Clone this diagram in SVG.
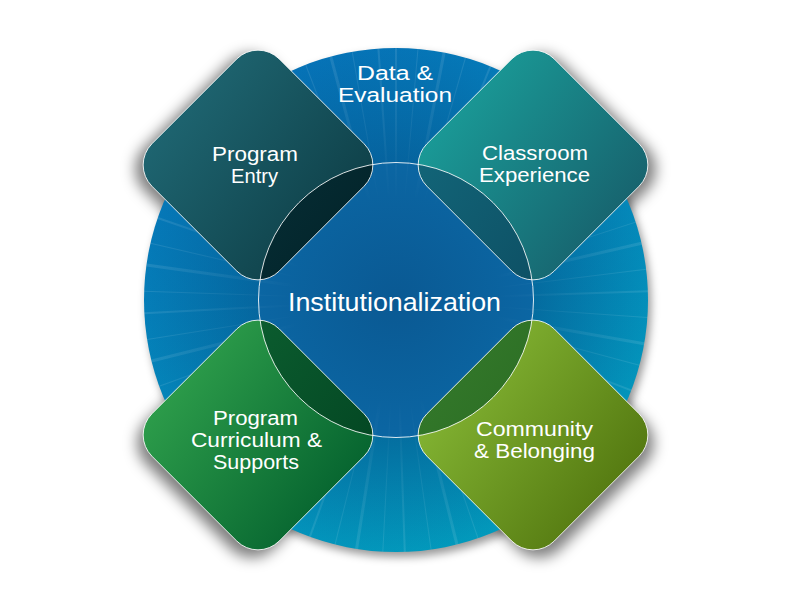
<svg xmlns="http://www.w3.org/2000/svg" width="792" height="612" viewBox="0 0 792 612">
<style>
.lbl{font-family:"Liberation Sans",Arial,sans-serif;font-size:19.5px;fill:#fff;text-anchor:middle}
.big{font-size:25px}
.edge{fill:none;stroke:#fff;stroke-opacity:0.85;stroke-width:1}
#ray{stroke:url(#rayg)}
.w1{stroke-width:1}
.w2{stroke-width:2}
.w3{stroke-width:3}
.shd{fill:#000;fill-opacity:0.5;filter:url(#blur)}
</style>
<defs>
  <filter id="blur" x="-30%" y="-30%" width="160%" height="160%"><feGaussianBlur stdDeviation="7"/></filter>
  <filter id="blur2" x="-10%" y="-10%" width="120%" height="120%"><feGaussianBlur stdDeviation="4"/></filter>
  <linearGradient id="circG" x1="0.25" y1="0" x2="0.75" y2="1">
    <stop offset="0" stop-color="#0670b6"/><stop offset="1" stop-color="#029cbc"/>
  </linearGradient>
  <radialGradient id="circShade" cx="396" cy="300" r="252" gradientUnits="userSpaceOnUse">
    <stop offset="0.5" stop-color="#063f7a" stop-opacity="0.45"/><stop offset="1" stop-color="#063f7a" stop-opacity="0"/>
  </radialGradient>
  <radialGradient id="innerG" cx="396" cy="300" r="137.5" gradientUnits="userSpaceOnUse">
    <stop offset="0" stop-color="#0a5993"/><stop offset="1" stop-color="#0b66a3"/>
  </radialGradient>
  <radialGradient id="rayg" cx="396" cy="300" r="252" gradientUnits="userSpaceOnUse">
    <stop offset="0.4" stop-color="#fff" stop-opacity="0"/>
    <stop offset="0.7" stop-color="#fff" stop-opacity="0.06"/>
    <stop offset="1" stop-color="#fff" stop-opacity="0.1"/>
  </radialGradient>
  <linearGradient id="gA" x1="0.1" y1="0.2" x2="0.9" y2="0.8"><stop offset="0" stop-color="#1f6773"/><stop offset="1" stop-color="#0e3e46"/></linearGradient>
  <linearGradient id="oA" x1="0.1" y1="0.2" x2="0.9" y2="0.8"><stop offset="0" stop-color="#0a3842"/><stop offset="1" stop-color="#03252b"/></linearGradient>
  <linearGradient id="gB" x1="0.1" y1="0.2" x2="0.9" y2="0.8"><stop offset="0" stop-color="#1a9d99"/><stop offset="1" stop-color="#17606c"/></linearGradient>
  <linearGradient id="oB" x1="0.1" y1="0.2" x2="0.9" y2="0.8"><stop offset="0" stop-color="#13677a"/><stop offset="1" stop-color="#0c4b60"/></linearGradient>
  <linearGradient id="gC" x1="0.1" y1="0.2" x2="0.9" y2="0.8"><stop offset="0" stop-color="#2fa04c"/><stop offset="1" stop-color="#04612e"/></linearGradient>
  <linearGradient id="oC" x1="0.1" y1="0.2" x2="0.9" y2="0.8"><stop offset="0" stop-color="#0d6232"/><stop offset="1" stop-color="#034522"/></linearGradient>
  <linearGradient id="gD" x1="0.1" y1="0.2" x2="0.9" y2="0.8"><stop offset="0" stop-color="#86b835"/><stop offset="1" stop-color="#52760f"/></linearGradient>
  <linearGradient id="oD" x1="0.1" y1="0.2" x2="0.9" y2="0.8"><stop offset="0" stop-color="#33782a"/><stop offset="1" stop-color="#23601c"/></linearGradient>
  <clipPath id="innerClip"><circle cx="396" cy="300" r="137.5"/></clipPath>
  <path id="dA" d="M236.79,58.93 a30,30 0 0 1 42.43,0 l84.85,84.85 a30,30 0 0 1 0,42.43 l-84.85,84.85 a30,30 0 0 1 -42.43,0 l-84.85,-84.85 a30,30 0 0 1 0,-42.43 z"/>
  <path id="dB" d="M511.79,58.93 a30,30 0 0 1 42.43,0 l84.85,84.85 a30,30 0 0 1 0,42.43 l-84.85,84.85 a30,30 0 0 1 -42.43,0 l-84.85,-84.85 a30,30 0 0 1 0,-42.43 z"/>
  <path id="dC" d="M236.79,328.93 a30,30 0 0 1 42.43,0 l84.85,84.85 a30,30 0 0 1 0,42.43 l-84.85,84.85 a30,30 0 0 1 -42.43,0 l-84.85,-84.85 a30,30 0 0 1 0,-42.43 z"/>
  <path id="dD" d="M511.79,328.93 a30,30 0 0 1 42.43,0 l84.85,84.85 a30,30 0 0 1 0,42.43 l-84.85,84.85 a30,30 0 0 1 -42.43,0 l-84.85,-84.85 a30,30 0 0 1 0,-42.43 z"/>
  <line id="ray" x1="396" y1="300" x2="396" y2="48"/>
</defs>

<g id="shadows">
  <circle cx="399" cy="305" r="252" fill="#000" fill-opacity="0.4" filter="url(#blur2)"/>
  <use href="#dA" class="shd" transform="translate(-8,4)"/>
  <use href="#dB" class="shd" transform="translate(8,4)"/>
  <use href="#dC" class="shd" transform="translate(-6,8)"/>
  <use href="#dD" class="shd" transform="translate(6,8)"/>
</g>

<g id="data-evaluation">
  <circle cx="396" cy="300" r="252" fill="url(#circG)"/>
  <circle cx="396" cy="300" r="252" fill="url(#circShade)"/>
</g>

<g id="institutionalization">
  <circle cx="396" cy="300" r="137.5" fill="url(#innerG)"/>
</g>

<g id="rays">
  <use href="#ray" class="w2" transform="rotate(0 396 300)"/>
  <use href="#ray" class="w1" transform="rotate(5 396 300)"/>
  <use href="#ray" class="w3" transform="rotate(11 396 300)"/>
  <use href="#ray" class="w1" transform="rotate(16 396 300)"/>
  <use href="#ray" class="w2" transform="rotate(22 396 300)"/>
  <use href="#ray" class="w1" transform="rotate(27 396 300)"/>
  <use href="#ray" class="w3" transform="rotate(33 396 300)"/>
  <use href="#ray" class="w1" transform="rotate(38 396 300)"/>
  <use href="#ray" class="w2" transform="rotate(44 396 300)"/>
  <use href="#ray" class="w1" transform="rotate(50 396 300)"/>
  <use href="#ray" class="w3" transform="rotate(55 396 300)"/>
  <use href="#ray" class="w1" transform="rotate(61 396 300)"/>
  <use href="#ray" class="w2" transform="rotate(66 396 300)"/>
  <use href="#ray" class="w1" transform="rotate(72 396 300)"/>
  <use href="#ray" class="w3" transform="rotate(77 396 300)"/>
  <use href="#ray" class="w1" transform="rotate(83 396 300)"/>
  <use href="#ray" class="w2" transform="rotate(88 396 300)"/>
  <use href="#ray" class="w1" transform="rotate(94 396 300)"/>
  <use href="#ray" class="w3" transform="rotate(100 396 300)"/>
  <use href="#ray" class="w1" transform="rotate(105 396 300)"/>
  <use href="#ray" class="w2" transform="rotate(111 396 300)"/>
  <use href="#ray" class="w1" transform="rotate(116 396 300)"/>
  <use href="#ray" class="w3" transform="rotate(122 396 300)"/>
  <use href="#ray" class="w1" transform="rotate(127 396 300)"/>
  <use href="#ray" class="w2" transform="rotate(133 396 300)"/>
  <use href="#ray" class="w1" transform="rotate(139 396 300)"/>
  <use href="#ray" class="w3" transform="rotate(144 396 300)"/>
  <use href="#ray" class="w1" transform="rotate(150 396 300)"/>
  <use href="#ray" class="w2" transform="rotate(155 396 300)"/>
  <use href="#ray" class="w1" transform="rotate(161 396 300)"/>
  <use href="#ray" class="w3" transform="rotate(166 396 300)"/>
  <use href="#ray" class="w1" transform="rotate(172 396 300)"/>
  <use href="#ray" class="w2" transform="rotate(178 396 300)"/>
  <use href="#ray" class="w1" transform="rotate(183 396 300)"/>
  <use href="#ray" class="w3" transform="rotate(189 396 300)"/>
  <use href="#ray" class="w1" transform="rotate(194 396 300)"/>
  <use href="#ray" class="w2" transform="rotate(200 396 300)"/>
  <use href="#ray" class="w1" transform="rotate(205 396 300)"/>
  <use href="#ray" class="w3" transform="rotate(211 396 300)"/>
  <use href="#ray" class="w1" transform="rotate(217 396 300)"/>
  <use href="#ray" class="w2" transform="rotate(222 396 300)"/>
  <use href="#ray" class="w1" transform="rotate(228 396 300)"/>
  <use href="#ray" class="w3" transform="rotate(233 396 300)"/>
  <use href="#ray" class="w1" transform="rotate(239 396 300)"/>
  <use href="#ray" class="w2" transform="rotate(244 396 300)"/>
  <use href="#ray" class="w1" transform="rotate(250 396 300)"/>
  <use href="#ray" class="w3" transform="rotate(256 396 300)"/>
  <use href="#ray" class="w1" transform="rotate(261 396 300)"/>
  <use href="#ray" class="w2" transform="rotate(267 396 300)"/>
  <use href="#ray" class="w1" transform="rotate(272 396 300)"/>
  <use href="#ray" class="w3" transform="rotate(278 396 300)"/>
  <use href="#ray" class="w1" transform="rotate(283 396 300)"/>
  <use href="#ray" class="w2" transform="rotate(289 396 300)"/>
  <use href="#ray" class="w1" transform="rotate(295 396 300)"/>
  <use href="#ray" class="w3" transform="rotate(300 396 300)"/>
  <use href="#ray" class="w1" transform="rotate(306 396 300)"/>
  <use href="#ray" class="w2" transform="rotate(311 396 300)"/>
  <use href="#ray" class="w1" transform="rotate(317 396 300)"/>
  <use href="#ray" class="w3" transform="rotate(322 396 300)"/>
  <use href="#ray" class="w1" transform="rotate(328 396 300)"/>
  <use href="#ray" class="w2" transform="rotate(334 396 300)"/>
  <use href="#ray" class="w1" transform="rotate(339 396 300)"/>
  <use href="#ray" class="w3" transform="rotate(345 396 300)"/>
  <use href="#ray" class="w1" transform="rotate(350 396 300)"/>
  <use href="#ray" class="w2" transform="rotate(356 396 300)"/>
</g>

<g id="connectors"></g>

<g id="program-entry">
  <use href="#dA" fill="url(#gA)"/>
  <use href="#dA" fill="url(#oA)" clip-path="url(#innerClip)"/>
  <use href="#dA" class="edge"/>
  <text class="lbl" x="255" y="160.5" textLength="86" lengthAdjust="spacingAndGlyphs">Program</text>
  <text class="lbl" x="254.5" y="182.5" textLength="47" lengthAdjust="spacingAndGlyphs">Entry</text>
</g>

<g id="classroom-experience">
  <use href="#dB" fill="url(#gB)"/>
  <use href="#dB" fill="url(#oB)" clip-path="url(#innerClip)"/>
  <use href="#dB" class="edge"/>
  <text class="lbl" x="535" y="159.5" textLength="106" lengthAdjust="spacingAndGlyphs">Classroom</text>
  <text class="lbl" x="534.5" y="181.5" textLength="111" lengthAdjust="spacingAndGlyphs">Experience</text>
</g>

<g id="program-curriculum">
  <use href="#dC" fill="url(#gC)"/>
  <use href="#dC" fill="url(#oC)" clip-path="url(#innerClip)"/>
  <use href="#dC" class="edge"/>
  <text class="lbl" x="255.5" y="425" textLength="85" lengthAdjust="spacingAndGlyphs">Program</text>
  <text class="lbl" x="256.5" y="447" textLength="131" lengthAdjust="spacingAndGlyphs">Curriculum &amp;</text>
  <text class="lbl" x="256" y="469" textLength="86" lengthAdjust="spacingAndGlyphs">Supports</text>
</g>

<g id="community-belonging">
  <use href="#dD" fill="url(#gD)"/>
  <use href="#dD" fill="url(#oD)" clip-path="url(#innerClip)"/>
  <use href="#dD" class="edge"/>
  <text class="lbl" x="534.5" y="435.5" textLength="117" lengthAdjust="spacingAndGlyphs">Community</text>
  <text class="lbl" x="534.5" y="457.5" textLength="121" lengthAdjust="spacingAndGlyphs">&amp; Belonging</text>
</g>

<g id="labels">
  <circle cx="396" cy="300" r="137.5" class="edge"/>
  <text class="lbl" x="395" y="79.5" textLength="76" lengthAdjust="spacingAndGlyphs">Data &amp;</text>
  <text class="lbl" x="395" y="101.5" textLength="114" lengthAdjust="spacingAndGlyphs">Evaluation</text>
  <text class="lbl big" x="394.5" y="311" textLength="213" lengthAdjust="spacingAndGlyphs">Institutionalization</text>
</g>
</svg>
